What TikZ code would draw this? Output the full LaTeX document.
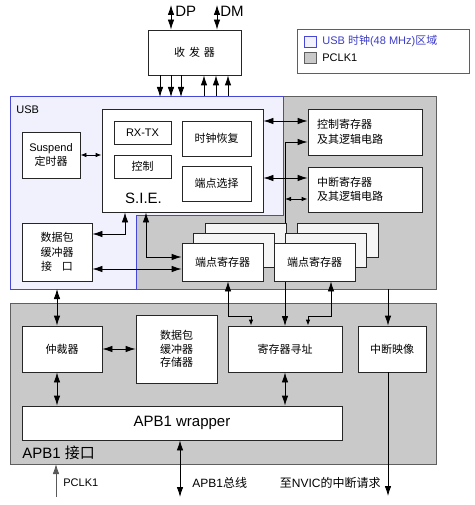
\documentclass[tikz,border=0pt]{standalone}
\usepackage{fontspec}
\setmainfont{Liberation Sans}
\newfontfamily\cjk{Noto Sans CJK SC}
\usetikzlibrary{arrows.meta,calc}
\definecolor{usbfill}{RGB}{240,241,253}
\definecolor{usbline}{RGB}{70,70,215}
\definecolor{pclk}{RGB}{201,201,201}
\definecolor{pclkline}{RGB}{95,95,95}
\definecolor{backbox}{RGB}{245,245,245}
\definecolor{legblue}{RGB}{60,60,200}
\begin{document}
\begin{tikzpicture}[x=1pt,y=-1pt,line width=0.8pt,
  font=\fontsize{11}{14.5}\selectfont,
  >={Latex[length=10pt,width=6.5pt]},
  box/.style={draw=black!85,fill=white,inner sep=0pt,align=center},
  smallboth/.style={{Latex[length=6pt,width=4.5pt]}-{Latex[length=6pt,width=4.5pt]}},
  bigsmall/.style={{Latex[length=10pt,width=6.5pt]}-{Latex[length=6pt,width=4.5pt]}},
  lbl/.style={inner sep=0pt},
  big/.style={font=\fontsize{15}{15}\selectfont}]
\useasboundingbox (0,0) rectangle (474,505);

% regions
\filldraw[fill=pclk,draw=pclkline] (136,96) rectangle (436,289);
\filldraw[fill=usbfill,draw=usbline] (10,96) -- (283,96) -- (283,215) -- (136,215) -- (136,289) -- (10,289) -- cycle;
\filldraw[fill=pclk,draw=pclkline] (10,303) rectangle (436,464);

% bus line behind register boxes
\coordinate (bus) at (285,142);
\draw[->] (bus) -- (285,326);

% transceiver and legend
\node[box,minimum width=93pt,minimum height=45pt] (trx) at (194.5,52.5) {\cjk 收\hspace{0.35em}发\hspace{0.35em}器};
\node[draw=pclkline,fill=white,minimum width=172pt,minimum height=44pt,inner sep=0pt] (leg) at (383,51) {};
\node[draw=usbline,fill=usbfill,minimum width=12pt,minimum height=11pt,inner sep=0pt] (lsq1) at (310,41.5) {};
\node[lbl,anchor=west,text=legblue] (lt1) at (322,41.5) {USB {\cjk 时钟}(48 MHz){\cjk 区域}};
\node[draw=pclkline,fill=pclk,minimum width=12pt,minimum height=11pt,inner sep=0pt] (lsq2) at (310,57.5) {};
\node[lbl,anchor=west] (lt2) at (322,57.5) {PCLK1};

\node[lbl,anchor=west,big] (dpl) at (175,11) {DP};
\node[lbl,anchor=west,big] (dml) at (220,11) {DM};
\node[lbl,anchor=west] (usbl) at (16,110) {USB};

% USB blocks
\node[box,minimum width=161pt,minimum height=103pt] (sie) at (182.5,160.5) {};
\node[lbl,big] (siel) at (143.5,198) {S.I.E.};
\node[box,minimum width=57pt,minimum height=23pt] (rxtx) at (142.5,132.5) {RX-TX};
\node[box,minimum width=57pt,minimum height=23pt] (ctl) at (142.5,166.5) {\cjk 控制};
\node[box,minimum width=69pt,minimum height=35pt] (clk) at (216.5,138.5) {\cjk 时钟恢复};
\node[box,minimum width=69pt,minimum height=35pt] (eps) at (216.5,183.5) {\cjk 端点选择};
\node[box,minimum width=58pt,minimum height=46pt] (susp) at (51,155) {Suspend\\{\cjk 定时器}};
\node[box,minimum width=70pt,minimum height=58pt] (pif) at (57,252) {{\cjk 数据包}\\{\cjk 缓冲器}\\{\cjk 接\hspace{0.9em}口}};

\node[box,text width=96pt,inner xsep=9pt,align=left,minimum height=46pt] (creg) at (365,132) {{\cjk 控制寄存器}\\{\cjk 及其逻辑电路}};
\node[box,text width=96pt,inner xsep=9pt,align=left,minimum height=45pt] (ireg) at (365,189.5) {{\cjk 中断寄存器}\\{\cjk 及其逻辑电路}};

% endpoint registers
\node[box,fill=backbox,minimum width=81pt,minimum height=34pt] (ep1c) at (245.5,240) {};
\node[box,fill=backbox,minimum width=81pt,minimum height=34pt] (ep1b) at (234,250) {};
\node[box,minimum width=81pt,minimum height=38pt] (ep1) at (222.5,262) {\cjk 端点寄存器};
\node[box,fill=backbox,minimum width=81pt,minimum height=34pt] (ep2c) at (337.5,240) {};
\node[box,fill=backbox,minimum width=81pt,minimum height=34pt] (ep2b) at (326,250) {};
\node[box,minimum width=81pt,minimum height=38pt] (ep2) at (314.5,262) {\cjk 端点寄存器};

% APB1 interface blocks
\node[box,minimum width=80pt,minimum height=46pt] (arb) at (62,349) {\cjk 仲裁器};
\node[box,minimum width=81pt,minimum height=68pt,font=\fontsize{11}{13.5}\selectfont] (pbm) at (176.5,349) {{\cjk 数据包}\\{\cjk 缓冲器}\\{\cjk 存储器}};
\node[box,minimum width=114pt,minimum height=46pt] (raddr) at (285,349) {\cjk 寄存器寻址};
\node[box,minimum width=68pt,minimum height=46pt] (imap) at (392,349) {\cjk 中断映像};
\node[box,minimum width=320pt,minimum height=34pt,big] (apb) at (182,423) {APB1 wrapper};
\node[lbl,anchor=west,big] (apbl) at (22,453) {APB1 {\cjk 接口}};

\node[lbl,anchor=west] (pcl) at (63,483) {PCLK1};
\node[lbl,anchor=west,font=\fontsize{12}{12}\selectfont] (busl) at (192,483) {APB1{\cjk 总线}};
\node[lbl,anchor=east,font=\fontsize{12}{12}\selectfont] (nvl) at (381,483) {{\cjk 至}NVIC{\cjk 的中断请求}};

% connectors
\coordinate (dp) at (171,5);
\coordinate (dm) at (217,5);
\draw[<->] (dp) -- (trx.north -| dp);
\draw[<->] (dm) -- (trx.north -| dm);
\foreach \i/\x in {1/160,2/171,3/181} {\coordinate (d\i) at (\x,97); \draw[->] (trx.south -| d\i) -- (d\i);}
\foreach \i/\x in {1/204,2/216,3/228} {\coordinate (u\i) at (\x,96); \draw[->] (u\i) -- (trx.south -| u\i);}

\draw[smallboth] (susp.east) -- (sie.west |- susp.east);
\coordinate (a1) at (270,121);
\draw[<->] (sie.east |- a1) -- (creg.west |- a1);
\draw[->] (bus) -- (creg.west |- bus);
\coordinate (a2) at (270,178);
\draw[<->] (sie.east |- a2) -- (ireg.west |- a2);
\coordinate (a3) at (285,199);
\draw[smallboth] (a3) -- (ireg.west |- a3);

\coordinate (a4) at (125,234);
\draw[<->] (pif.east |- a4) -| (sie.south -| a4);
\coordinate (a5) at (150,269);
\draw[<->] (pif.east |- a5) -- (ep1.west |- a5);
\coordinate (a6) at (146,257);
\draw[<->] (sie.south -| a6) |- (ep1.west |- a6);

\coordinate (a7) at (228,316);
\coordinate (a8) at (251,316);
\draw[bigsmall] (ep1.south -| a7) -- (a7) -- (a8) -- (raddr.north -| a8);
\coordinate (a9) at (331,316);
\coordinate (a10) at (308,316);
\draw[bigsmall] (ep2.south -| a9) -- (a9) -- (a10) -- (raddr.north -| a10);

\coordinate (a11) at (388,289);
\draw[->] (a11) -- (imap.north -| a11);
\coordinate (a12) at (57,289);
\draw[<->] (a12) -- (arb.north -| a12);
\draw[<->] (arb.east) -- (pbm.west);
\coordinate (a13) at (57,390);
\draw[<->] (arb.south -| a13) -- (apb.north -| a13);
\draw[<->] (raddr.south) -- (apb.north -| raddr.south);
\coordinate (a14) at (180,497);
\draw[<->] (apb.south -| a14) -- (a14);
\coordinate (a15) at (56,497);
\coordinate (a16) at (56,464);
\draw[->,black!65] (a15) -- (a16);
\coordinate (a17) at (388,496);
\draw[->] (imap.south -| a17) -- (a17);
\end{tikzpicture}
\end{document}
